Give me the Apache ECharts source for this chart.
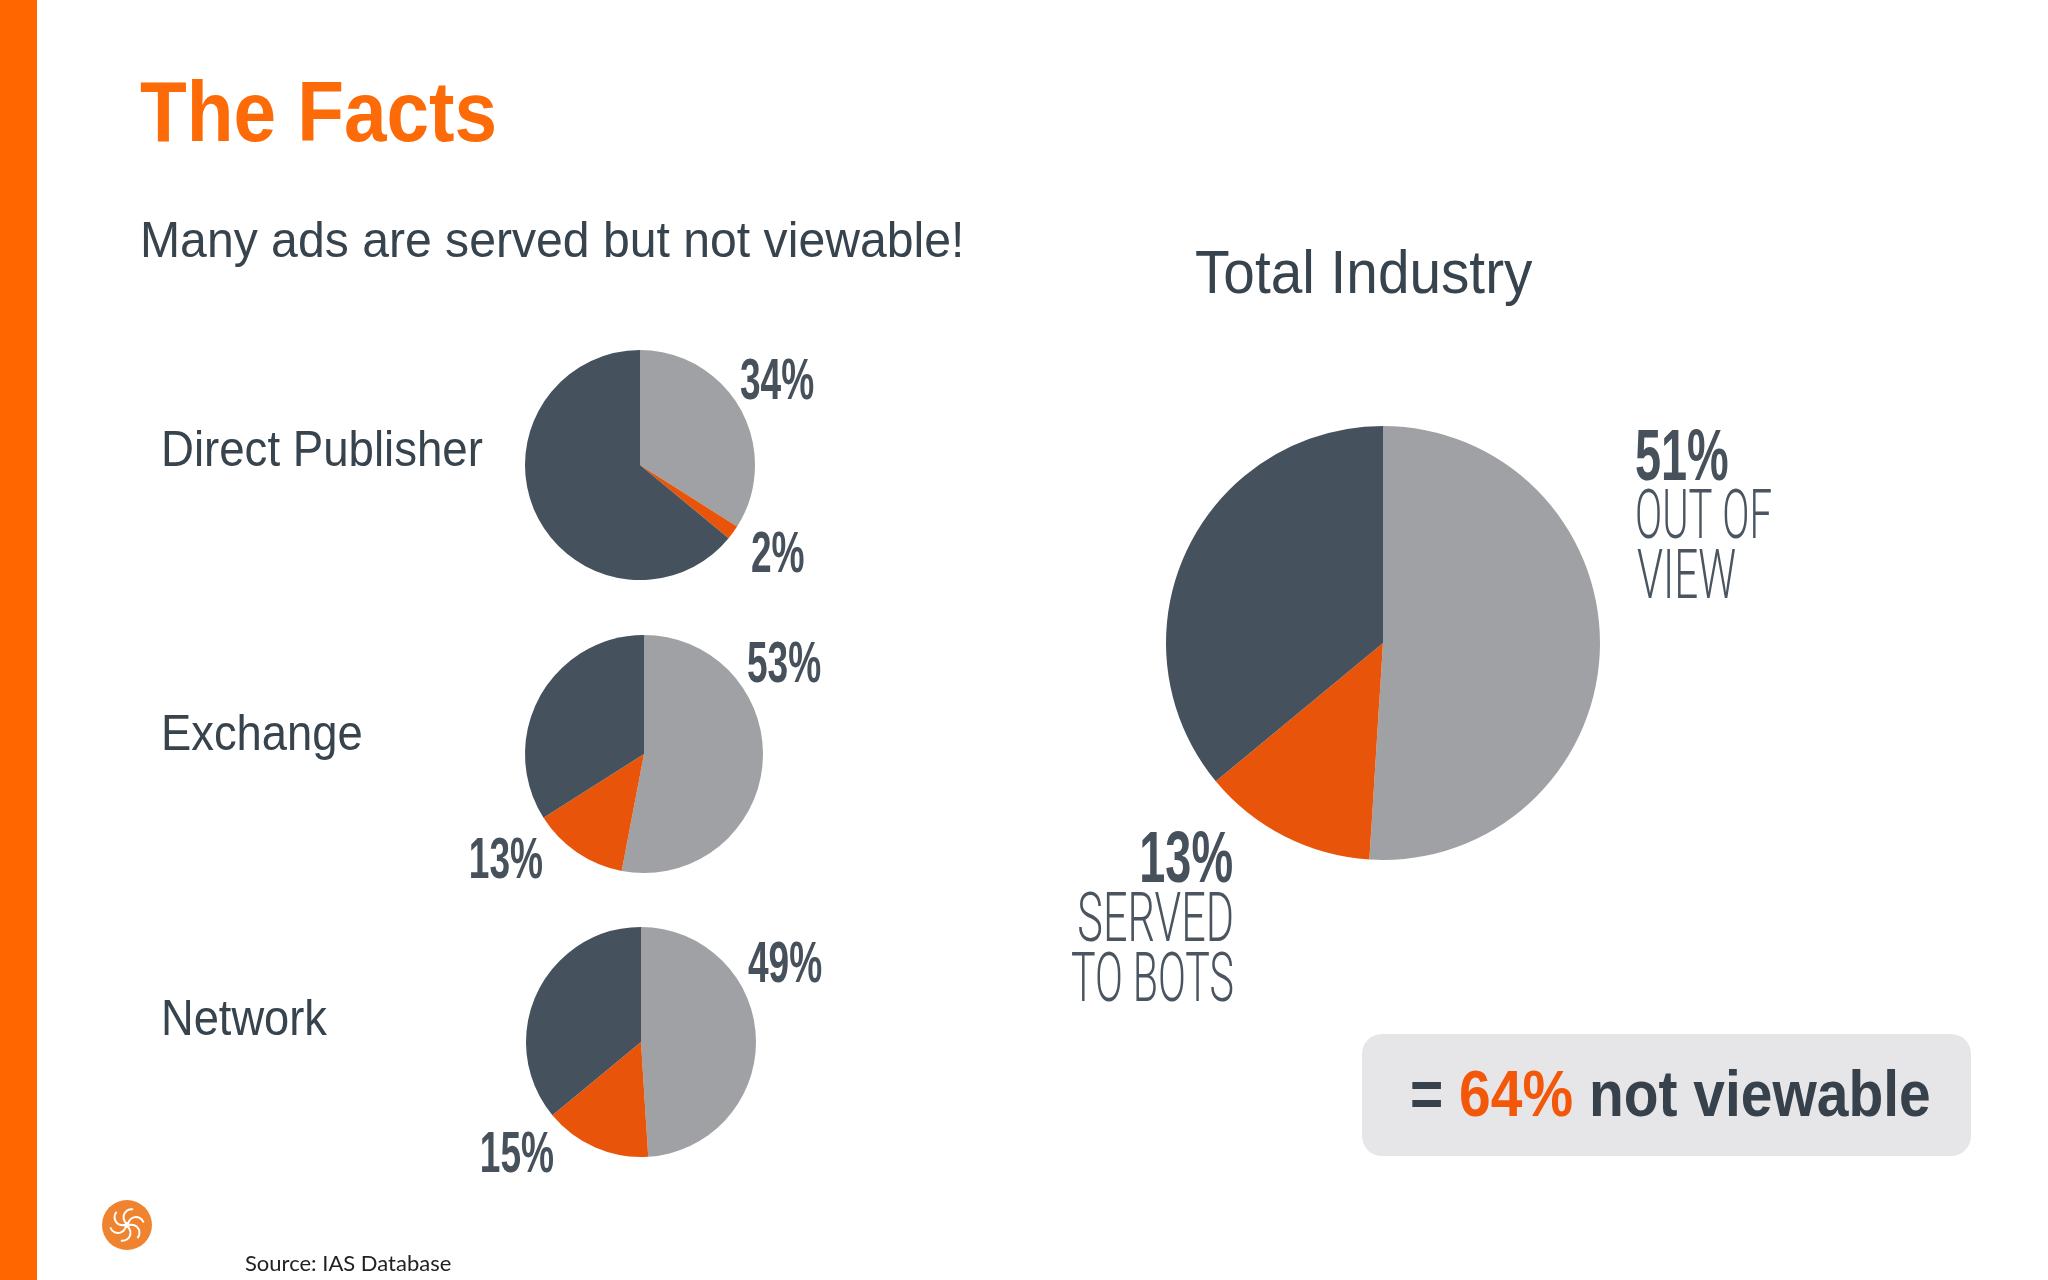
<!DOCTYPE html>
<html>
<head>
<meta charset="utf-8">
<script src="https://cdn.jsdelivr.net/npm/echarts@6/dist/echarts.min.js"></script>
<style>
  html, body { margin: 0; padding: 0; background: #fff; }
  #chart { width: 2048px; height: 1280px; }
</style>
</head>
<body>
<div id="chart"></div>
<script>
// slice order: out of view, served to bots, viewable
const categories = ['Out of view', 'Served to bots', 'Viewable'];
const directPublisher = [34, 2, 64];
const exchange = [53, 13, 34];
const network = [49, 15, 36];
const totalIndustry = [51, 13, 36];
const rowLabels = ['Direct Publisher', 'Exchange', 'Network'];
const notViewable = 64;

const GRAY = '#a0a1a5';
const ORANGE = '#e8550a';
const DARK = '#45525d';
const TEXT = '#37434d';
const NUM = '#47515b';

const chart = echarts.init(document.getElementById('chart'));

function pieSeries(values, center, radius) {
  return {
    type: 'pie',
    center: center,
    radius: radius,
    startAngle: 90,
    clockwise: true,
    silent: true,
    label: { show: false },
    labelLine: { show: false },
    itemStyle: { borderWidth: 0 },
    data: values.map((v, i) => ({
      name: categories[i],
      value: v,
      itemStyle: { color: [GRAY, ORANGE, DARK][i] }
    }))
  };
}

function txt(x, y, text, size, opts) {
  opts = opts || {};
  return {
    type: 'text',
    x: x,
    y: y,
    scaleX: opts.scaleX || 0.91,
    silent: true,
    style: {
      text: text,
      fontSize: size,
      fontFamily: opts.family || '"Liberation Sans", Arial, sans-serif',
      fontWeight: opts.weight || 'normal',
      fill: opts.color || TEXT,
      align: opts.align || 'left',
      verticalAlign: 'middle'
    }
  };
}

// condensed percentage figures
function num(x, y, value, size, align) {
  return txt(x, y, value + '%', size, { weight: 'bold', color: NUM, scaleX: 0.65, align: align || 'left' });
}
function thin(x, y, text, sx, align) {
  return txt(x, y, text, 68, { family: 'Roboto, sans-serif', weight: 300, color: '#4b5560', scaleX: sx, align: align || 'left' });
}

// small white swirl strokes for the logo
const logoStrokes = [0, 60, 120, 180, 240, 300].map(a => ({
  type: 'arc',
  x: 127,
  y: 1225,
  rotation: a * Math.PI / 180,
  silent: true,
  shape: { cx: 9, cy: 0, r: 8, startAngle: Math.PI * 0.9, endAngle: Math.PI * 1.9 },
  style: { stroke: '#ffffff', lineWidth: 2, fill: null }
}));

const option = {
  backgroundColor: '#ffffff',
  animation: false,
  series: [
    pieSeries(directPublisher, [640, 465], 115),
    pieSeries(exchange, [644, 754], 119),
    pieSeries(network, [641, 1042], 115),
    pieSeries(totalIndustry, [1383, 643], 217)
  ],
  graphic: [
    { type: 'rect', shape: { x: 0, y: 0, width: 37, height: 1280 }, style: { fill: '#ff6600' }, silent: true },
    txt(140, 118, 'The Facts', 85, { weight: 'bold', color: '#fd6a08', scaleX: 0.90 }),
    txt(140, 243, 'Many ads are served but not viewable!', 50, { scaleX: 0.963 }),
    txt(161, 452, rowLabels[0], 50, { scaleX: 0.912 }),
    txt(161, 736, rowLabels[1], 50, { scaleX: 0.907 }),
    txt(161, 1021, rowLabels[2], 50, { scaleX: 0.905 }),
    txt(1195, 276, 'Total Industry', 62, { scaleX: 0.915 }),

    num(740, 383, directPublisher[0], 57),
    num(751, 556, directPublisher[1], 57),
    num(747, 666, exchange[0], 57),
    num(543, 862, exchange[1], 57, 'right'),
    num(748, 966, network[0], 57),
    num(554, 1156, network[1], 57, 'right'),

    num(1635, 460, totalIndustry[0], 72),
    thin(1635, 521, 'OUT OF', 0.59),
    thin(1637, 581, 'VIEW', 0.62),
    num(1233, 862, totalIndustry[1], 72, 'right'),
    thin(1234, 924, 'SERVED', 0.635, 'right'),
    thin(1234, 984, 'TO BOTS', 0.605, 'right'),

    { type: 'rect', shape: { x: 1362, y: 1034, width: 609, height: 122, r: 20 }, style: { fill: '#e6e6e9' }, silent: true },
    {
      type: 'text',
      x: 1410,
      y: 1098,
      scaleX: 0.89,
      silent: true,
      style: {
        text: '{d|= }{o|' + notViewable + '%}{d| not viewable}',
        verticalAlign: 'middle',
        rich: {
          d: { fontSize: 64, fontWeight: 'bold', fontFamily: '"Liberation Sans", Arial, sans-serif', fill: '#36414b' },
          o: { fontSize: 64, fontWeight: 'bold', fontFamily: '"Liberation Sans", Arial, sans-serif', fill: '#f2570a' }
        }
      }
    },

    { type: 'circle', shape: { cx: 127, cy: 1225, r: 25 }, style: { fill: '#f08330' }, silent: true },
    ...logoStrokes,
    txt(245, 1264, 'Source: IAS Database', 22, { family: 'Lato, sans-serif', color: '#222222', scaleX: 1 })
  ]
};

chart.setOption(option);
</script>
</body>
</html>
